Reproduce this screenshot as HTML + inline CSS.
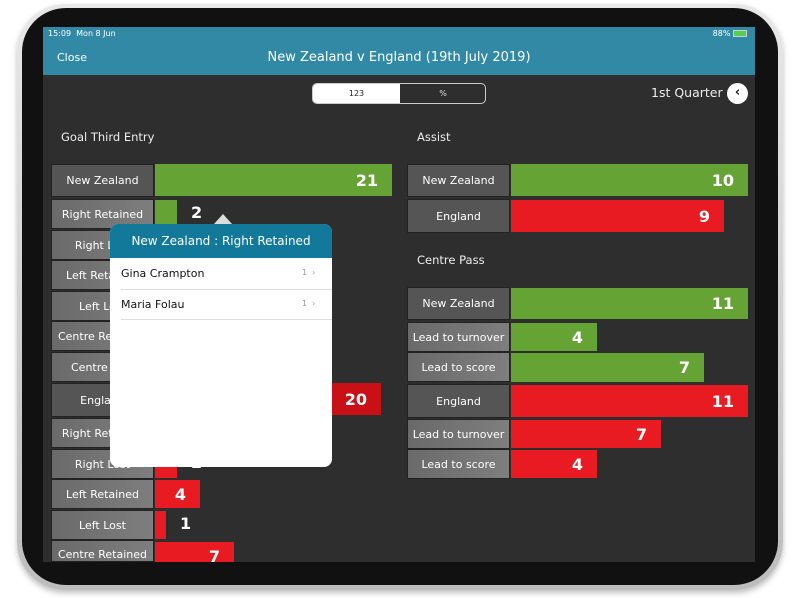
<!DOCTYPE html>
<html><head><meta charset="utf-8"><style>
*{margin:0;padding:0;box-sizing:border-box}
body{width:800px;height:598px;background:#fff;position:relative;overflow:hidden;font-family:"DejaVu Sans","Liberation Sans",sans-serif}
.a{position:absolute}
.frame{left:17px;top:4px;width:766px;height:586px;border-radius:48px;background:linear-gradient(#e8e8e8,#bdbdbd);box-shadow:0 3px 6px rgba(0,0,0,.25)}
.bezel{left:22px;top:8px;width:756px;height:577px;border-radius:44px;background:#111}
.screen{left:43px;top:27px;width:712px;height:535px;background:#2e2e2e;overflow:hidden}
.hdr{left:0;top:0;width:712px;height:48px;background:#3189a6;color:#fff}
.lbl{color:#fff;font-size:11px;display:flex;align-items:center;justify-content:center;border:1px solid #222;font-weight:500}
.team{background:#555}
.sub{background:linear-gradient(90deg,#6a6a6a,#7e7e7e)}
.bar{color:#fff;font-size:16px;font-weight:bold;display:flex;align-items:center;justify-content:flex-end;padding-right:14px}
.g{background:#64a334}.r{background:#e81b23}
.num{color:#fff;font-size:16px;font-weight:bold}
.t{color:#eee;font-size:11.5px}
</style></head><body>
<div class="a frame"></div><div class="a bezel"></div>
<div class="a screen">
 <div class="a hdr">
  <div class="a" style="left:5px;top:2px;font-size:8px">15:09&nbsp;&nbsp;Mon 8 Jun</div>
  <div class="a" style="right:8px;top:2px;font-size:8px">88% <span style="display:inline-block;width:14px;height:7px;background:#5c5;border:1px solid #ccc;vertical-align:middle"></span></div>
  <div class="a" style="left:14px;top:24px;font-size:11px">Close</div>
  <div class="a" style="left:0;width:712px;text-align:center;top:23px;font-size:13px">New Zealand v England (19th July 2019)</div>
 </div>
</div>
<div class="a" style="left:312px;top:83px;width:174px;height:21px;border:1px solid #ccc;border-radius:5px;overflow:hidden;font-size:8px">
 <div class="a" style="left:0;top:0;width:87px;height:19px;background:#fff;color:#222;text-align:center;line-height:19px">123</div>
 <div class="a" style="left:87px;top:0;width:86px;height:19px;color:#ddd;text-align:center;line-height:19px">%</div>
</div>
<div class="a" style="left:651px;top:85px;color:#eee;font-size:12.5px">1st Quarter</div>
<div class="a" style="left:727px;top:83px;width:21px;height:21px;border-radius:50%;background:#fff;color:#222;font-size:13px;text-align:center;line-height:20px;font-weight:bold">‹</div>

<div class="a t" style="left:61px;top:130px">Goal Third Entry</div>
<div class="a t" style="left:417px;top:130px">Assist</div>
<div class="a t" style="left:417px;top:253px">Centre Pass</div>

<div class="a lbl team" style="left:51px;top:164px;width:103px;height:33px">New Zealand</div>
<div class="a bar g" style="left:155px;top:164px;width:237px;height:32px">21</div>
<div class="a lbl sub" style="left:51px;top:199px;width:103px;height:30px">Right Retained</div>
<div class="a g" style="left:155px;top:200px;width:22px;height:28px"></div>
<div class="a num" style="left:191px;top:203px">2</div>
<div class="a lbl sub" style="left:51px;top:230px;width:103px;height:30px">Right Lost</div>
<div class="a lbl sub" style="left:51px;top:260px;width:103px;height:30px">Left Retained</div>
<div class="a lbl sub" style="left:51px;top:291px;width:103px;height:30px">Left Lost</div>
<div class="a lbl sub" style="left:51px;top:321px;width:103px;height:30px">Centre Retained</div>
<div class="a lbl sub" style="left:51px;top:352px;width:103px;height:30px">Centre Lost</div>
<div class="a lbl team" style="left:51px;top:383px;width:103px;height:34px">England</div>
<div class="a bar r" style="left:155px;top:383px;width:226px;height:32px;background:#c91016">20</div>
<div class="a lbl sub" style="left:51px;top:418px;width:103px;height:30px">Right Retained</div>
<div class="a lbl sub" style="left:51px;top:449px;width:103px;height:30px">Right Lost</div>
<div class="a r" style="left:155px;top:450px;width:22px;height:28px"></div>
<div class="a num" style="left:191px;top:453px">2</div>
<div class="a lbl sub" style="left:51px;top:479px;width:103px;height:30px">Left Retained</div>
<div class="a bar r" style="left:155px;top:480px;width:45px;height:28px;padding-right:14px">4</div>
<div class="a lbl sub" style="left:51px;top:510px;width:103px;height:30px">Left Lost</div>
<div class="a r" style="left:155px;top:511px;width:11px;height:28px"></div>
<div class="a num" style="left:180px;top:514px">1</div>
<div class="a lbl sub" style="left:51px;top:540px;width:103px;height:22px;align-items:flex-start;padding-top:7px">Centre Retained</div>
<div class="a bar r" style="left:155px;top:542px;width:79px;height:20px;align-items:flex-start;padding-top:5px">7</div>

<div class="a lbl team" style="left:407px;top:164px;width:103px;height:33px">New Zealand</div>
<div class="a bar g" style="left:511px;top:164px;width:237px;height:32px">10</div>
<div class="a lbl team" style="left:407px;top:199px;width:103px;height:34px">England</div>
<div class="a bar r" style="left:511px;top:200px;width:213px;height:32px">9</div>
<div class="a lbl team" style="left:407px;top:287px;width:103px;height:33px">New Zealand</div>
<div class="a bar g" style="left:511px;top:288px;width:237px;height:31px">11</div>
<div class="a lbl sub" style="left:407px;top:322px;width:103px;height:30px">Lead to turnover</div>
<div class="a bar g" style="left:511px;top:323px;width:86px;height:28px">4</div>
<div class="a lbl sub" style="left:407px;top:352px;width:103px;height:30px">Lead to score</div>
<div class="a bar g" style="left:511px;top:353px;width:193px;height:29px">7</div>
<div class="a lbl team" style="left:407px;top:384px;width:103px;height:34px">England</div>
<div class="a bar r" style="left:511px;top:385px;width:237px;height:32px">11</div>
<div class="a lbl sub" style="left:407px;top:419px;width:103px;height:30px">Lead to turnover</div>
<div class="a bar r" style="left:511px;top:420px;width:150px;height:28px">7</div>
<div class="a lbl sub" style="left:407px;top:449px;width:103px;height:30px">Lead to score</div>
<div class="a bar r" style="left:511px;top:450px;width:86px;height:28px">4</div>

<div class="a" style="left:214px;top:214px;width:0;height:0;border-left:9px solid transparent;border-right:9px solid transparent;border-bottom:10px solid #ddd"></div>
<div class="a" style="left:110px;top:224px;width:222px;height:243px;background:#fff;border-radius:8px;overflow:hidden">
 <div class="a" style="left:0;top:0;width:222px;height:34px;background:#13799b;color:#fff;font-size:12px;text-align:center;line-height:34px">New Zealand : Right Retained</div>
 <div class="a" style="left:11px;top:43px;font-size:11px;color:#111;font-weight:500">Gina Crampton</div>
 <div class="a" style="left:192px;top:44px;font-size:8px;color:#999">1 &nbsp;›</div>
 <div class="a" style="left:11px;top:65px;width:211px;height:1px;background:#ddd"></div>
 <div class="a" style="left:11px;top:74px;font-size:11px;color:#111;font-weight:500">Maria Folau</div>
 <div class="a" style="left:192px;top:75px;font-size:8px;color:#999">1 &nbsp;›</div>
 <div class="a" style="left:11px;top:95px;width:211px;height:1px;background:#ddd"></div>
</div>
</body></html>
